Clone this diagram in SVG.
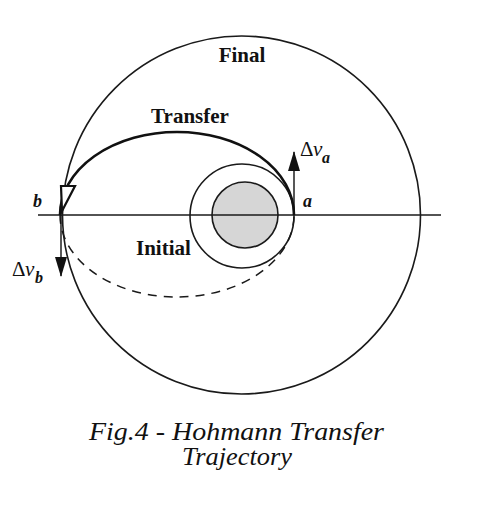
<svg xmlns="http://www.w3.org/2000/svg" width="478" height="524" viewBox="0 0 478 524">
<style>
.lbl{font-family:"Liberation Serif",serif;font-weight:bold;font-size:21px;fill:#111}
.bi{font-family:"Liberation Serif",serif;font-weight:bold;font-style:italic;font-size:18px;fill:#111}
.dv{font-family:"Liberation Serif",serif;font-size:21px;fill:#111}
.iv{font-family:"Liberation Serif",serif;font-style:italic;font-size:21px;fill:#111}
.sub{font-family:"Liberation Serif",serif;font-weight:bold;font-style:italic;font-size:16px;fill:#111}
.cap{font-family:"Liberation Serif",serif;font-style:italic;font-size:25px;fill:#111}
.orb{fill:none;stroke:#1a1a1a;stroke-width:1.6}
.vec{stroke:#111;stroke-width:1.4;marker-end:url(#ah)}
</style>
<defs>
<marker id="ah" viewBox="0 0 20 12" refX="19" refY="6" markerWidth="20" markerHeight="12" markerUnits="userSpaceOnUse" orient="auto"><path d="M0,0 L20,6 L0,12 Z" fill="#111"/></marker>
</defs>
<rect width="478" height="524" fill="#fff"/>
<g id="final"><circle class="orb" cx="241.5" cy="215" r="179"/><text class="lbl" x="242" y="62" text-anchor="middle">Final</text></g>
<g id="planet"><circle cx="245" cy="215" r="33" fill="#d6d6d6" stroke="#1a1a1a" stroke-width="1.6"/></g>
<g id="initial"><circle class="orb" cx="242" cy="216" r="52"/><text class="lbl" x="136" y="255">Initial</text></g>
<g id="axis"><line x1="38" y1="215" x2="441" y2="215" stroke="#1a1a1a" stroke-width="1.4"/></g>
<g id="transfer">
<path d="M294,215 A117,83 0 0 0 60,215" fill="none" stroke="#111" stroke-width="2.6"/>
<path d="M60,215 A117,82 0 0 0 294,215" fill="none" stroke="#1a1a1a" stroke-width="1.5" stroke-dasharray="9 7"/>
<text class="lbl" x="190" y="123" text-anchor="middle">Transfer</text>
</g>
<g id="connectors">
<line class="vec" x1="294" y1="215" x2="294" y2="152"/>
<line class="vec" x1="61" y1="215" x2="61" y2="276"/>
<polygon points="61,186 75,186 62,211" fill="#fff" stroke="#111" stroke-width="2.2"/>
</g>
<g id="point-a">
<text class="bi" x="303" y="207">a</text>
<text class="dv" x="300" y="156">Δ</text>
<text class="iv" x="313" y="156">v</text>
<text class="sub" x="322" y="163">a</text>
</g>
<g id="point-b">
<text class="bi" x="33" y="207">b</text>
<text class="dv" x="12" y="276">Δ</text>
<text class="iv" x="25" y="276">v</text>
<text class="sub" x="35" y="283">b</text>
</g>
<g id="caption">
<text class="cap" x="89" y="440" textLength="295" lengthAdjust="spacingAndGlyphs">Fig.4 - Hohmann Transfer</text>
<text class="cap" x="182" y="465" textLength="110" lengthAdjust="spacingAndGlyphs">Trajectory</text>
</g>
</svg>
